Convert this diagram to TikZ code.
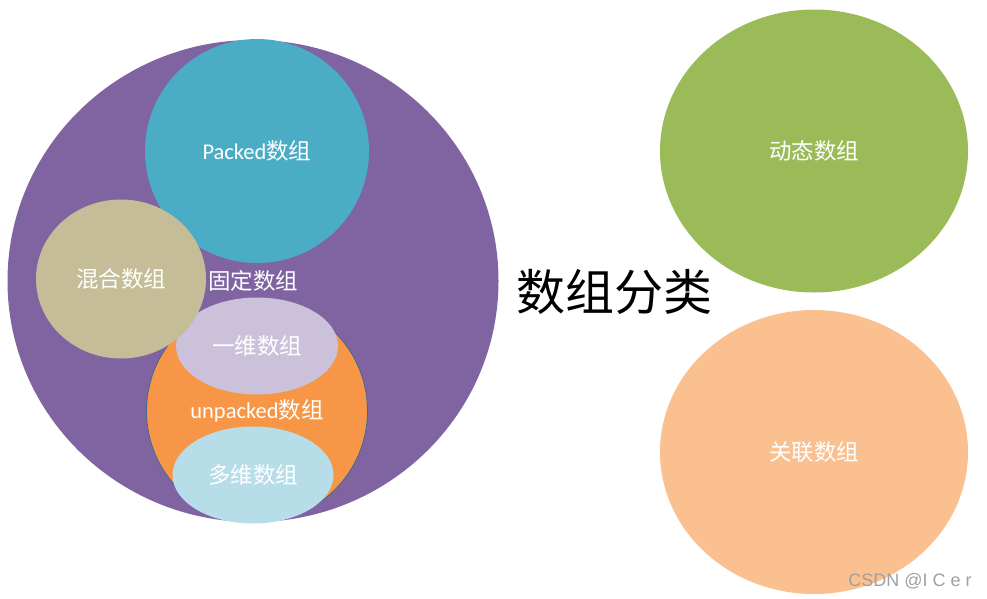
\documentclass[tikz,border=0pt]{standalone}
\usepackage{fontspec}
\setmainfont{Carlito}
\newfontfamily\cjk{Noto Sans CJK SC}
\newfontfamily\wmfont{Liberation Sans}
\usetikzlibrary{shapes}
\definecolor{fixedpurple}{HTML}{8064A2}
\definecolor{packedblue}{HTML}{4BACC6}
\definecolor{mixedkhaki}{HTML}{C4BD97}
\definecolor{unpackedorange}{HTML}{F79646}
\definecolor{unpackedline}{HTML}{3F6790}
\definecolor{onelilac}{HTML}{CCC1DA}
\definecolor{multiblue}{HTML}{B7DEE8}
\definecolor{dyngreen}{HTML}{9BBB59}
\definecolor{assocpeach}{HTML}{FAC090}
\begin{document}
\begin{tikzpicture}[x=1pt,y=-1pt,
  blob/.style={ellipse,inner sep=0pt,text=white,font=\fontsize{22.5}{22.5}\selectfont}]
\useasboundingbox (0,0) rectangle (987,598);
%%%%%%%%%
% fixed arrays and what sits inside
\node [blob,fill=fixedpurple,minimum width=491pt,minimum height=482pt] (fixed) at (253,281) {\cjk 固定数组};
\node [blob,fill=packedblue,minimum width=224pt,minimum height=224pt] (packed) at (257,151) {Packed{\cjk 数组}};
\node [blob,fill=unpackedorange,draw=unpackedline,line width=0.8pt,minimum width=221pt,minimum height=222pt] (unpacked) at (257,411) {unpacked{\cjk 数组}};
\node [blob,fill=onelilac,minimum width=162pt,minimum height=97pt] (onedim) at (257,346) {\cjk 一维数组};
\node [blob,fill=multiblue,minimum width=161pt,minimum height=97pt] (multidim) at (253,475) {\cjk 多维数组};
\node [blob,fill=mixedkhaki,minimum width=170pt,minimum height=159pt] (mixed) at (121,279) {\cjk 混合数组};
%%%%%%%%%
% title
\node (title) at (614,292) {\cjk\fontsize{49}{49}\selectfont 数组分类};
%%%%%%%%%
% right column
\node [blob,fill=dyngreen,minimum width=308pt,minimum height=283pt] (dynamic) at (814,151) {\cjk 动态数组};
\node [blob,fill=assocpeach,minimum width=308pt,minimum height=284pt] (assoc) at (814,452) {\cjk 关联数组};
%%%%%%%%%
\node [text=gray!75,font=\wmfont\fontsize{18}{18}\selectfont] (mark) at (910,581) {CSDN @I C e r};
\end{tikzpicture}
\end{document}
